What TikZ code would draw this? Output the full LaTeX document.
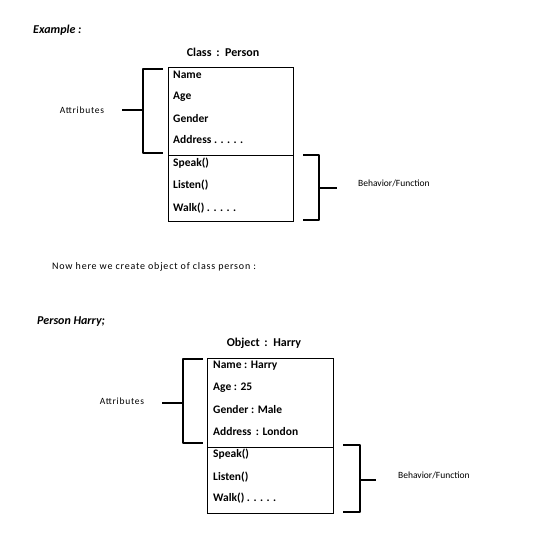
\documentclass[tikz,border=0pt]{standalone}
\usepackage{fontspec}
\setmainfont{Carlito}
\newfontfamily\widefont[LetterSpace=8]{Carlito}
\tikzset{
  membox/.style={draw,line width=0.6pt,anchor=north west,minimum width=125pt,minimum height=154pt,inner sep=0pt},
  row/.style={anchor=west,inner sep=0pt,font=\fontsize{11.5}{13}\selectfont\bfseries},
  title/.style={anchor=center,inner sep=0pt,font=\fontsize{12}{14}\selectfont\bfseries},
  lbl/.style={anchor=west,inner sep=0pt,font=\fontsize{9.5}{11}\selectfont},
  wide/.style={inner sep=0pt,font=\widefont\fontsize{9.5}{11}\selectfont},
  heading/.style={anchor=west,inner sep=0pt,font=\fontsize{12}{14}\selectfont\bfseries\itshape},
  bracket/.style={line width=2.6pt,line join=round}
}
\begin{document}
\begin{tikzpicture}[x=1pt,y=-1pt]
\useasboundingbox[fill=white](0,0) rectangle (540,558);
% class
\node[heading] (ex) at (33,30) {Example :};
\node[title] (clstitle) at (223,52) {Class \,:\, Person};
\node[membox] (cls) at (168,67) {};
\draw[line width=0.6pt] (cls.west |- 0,155) -- (cls.east |- 0,155);
\node[row] (cname) at (173,75) {Name};
\node[row] (cage) at (173,97) {Age};
\node[row] (cgender) at (173,119) {Gender};
\node[row] (caddr) at (173,140) {Address . . . . .};
\node[row] (cspeak) at (173,163) {Speak()};
\node[row] (clisten) at (173,185) {Listen()};
\node[row] (cwalk) at (173,208) {Walk() . . . . .};
\draw[bracket](163,69)--(143,69)--(143,153)--(163,153);
\draw[bracket](143,110)--(122,110);
\node[wide,anchor=center] (cattr) at (82,110) {Attributes};
\draw[bracket](303,155)--(319,155)--(319,220)--(303,220);
\draw[bracket](319,188)--(337,188);
\node[lbl] (cbeh) at (358,183) {Behavior/Function};
% object
\node[wide,anchor=west,font=\widefont\fontsize{10}{12}\selectfont] (now) at (52,267) {Now here we create object of class person :};
\node[heading] (ph) at (37,322) {Person Harry;};
\node[title] (objtitle) at (264,343) {Object \,:\, Harry};
\node[membox,minimum width=126pt,minimum height=155pt] (obj) at (207,358) {};
\draw[line width=0.6pt] (obj.west |- 0,447) -- (obj.east |- 0,447);
\node[row] (oname) at (213,366) {Name : Harry};
\node[row] (oage) at (213,388) {Age : 25};
\node[row] (ogender) at (213,410) {Gender : Male};
\node[row] (oaddr) at (213,432) {Address \,: London};
\node[row] (ospeak) at (213,454) {Speak()};
\node[row] (olisten) at (213,477) {Listen()};
\node[row] (owalk) at (213,498) {Walk() . . . . .};
\draw[bracket](203,359)--(183,359)--(183,443)--(203,443);
\draw[bracket](183,403)--(162,403);
\node[wide,anchor=center] (oattr) at (122,401) {Attributes};
\draw[bracket](343,445)--(360,445)--(360,512)--(343,512);
\draw[bracket](360,480)--(376,480);
\node[lbl] (obeh) at (398,475) {Behavior/Function};
\end{tikzpicture}
\end{document}
